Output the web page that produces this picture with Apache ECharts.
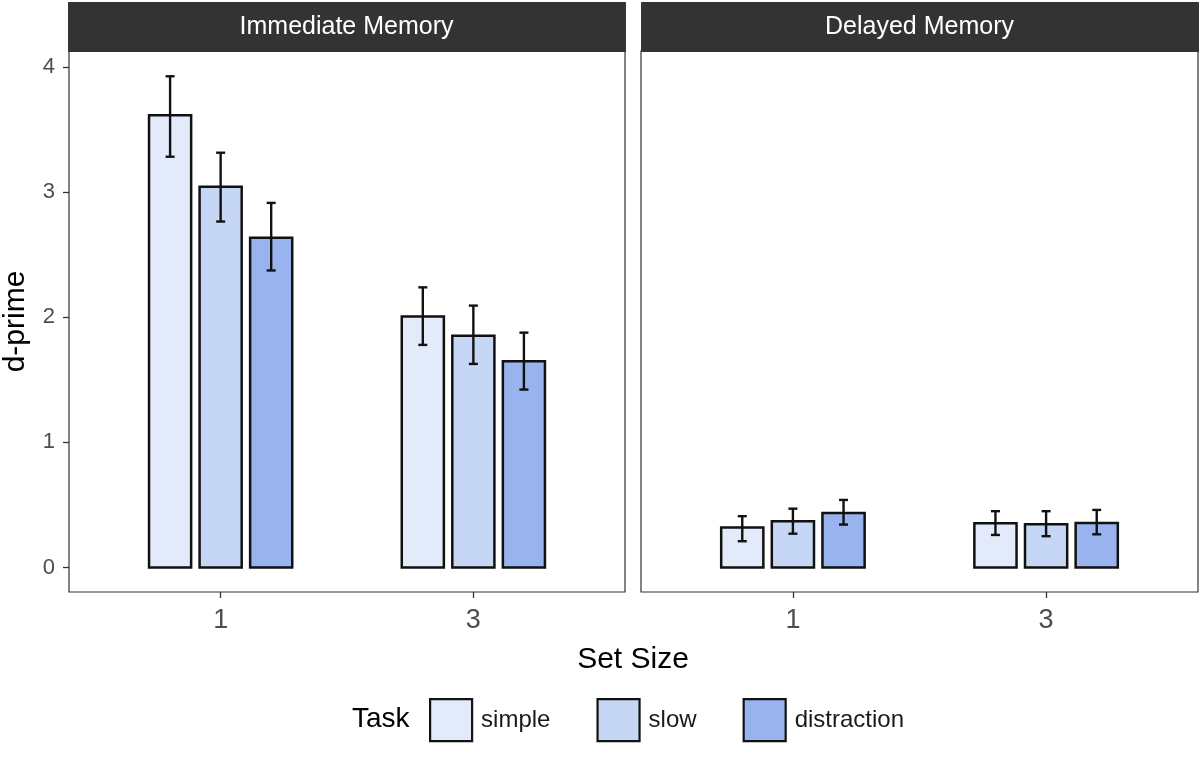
<!DOCTYPE html>
<html><head><meta charset="utf-8">
<script src="https://cdn.jsdelivr.net/npm/echarts@6/dist/echarts.min.js"></script>
<style>html,body{margin:0;padding:0;background:#fff}#c{width:1200px;height:774px}</style>
</head><body><div id="c"></div>
<script>
const panels = ['Immediate Memory', 'Delayed Memory'];
const setSizes = ['1', '3'];
const tasks = ['simple', 'slow', 'distraction'];
const taskColors = ['#E3EAFA', '#C6D6F5', '#99B3EE'];
const yTicks = [0, 1, 2, 3, 4];
// values per task (rows) for set size 1 and 3 (columns)
const immMean = [[3.615, 2.005], [3.044, 1.853], [2.635, 1.648]];
const immLow  = [[3.283, 1.779], [2.765, 1.627], [2.374, 1.422]];
const immHigh = [[3.926, 2.239], [3.315, 2.093], [2.914, 1.877]];
const delMean = [[0.319, 0.353], [0.369, 0.345], [0.436, 0.356]];
const delLow  = [[0.210, 0.260], [0.270, 0.250], [0.343, 0.265]];
const delHigh = [[0.410, 0.450], [0.470, 0.450], [0.540, 0.460]];

const FONT = 'Liberation Sans, Arial, sans-serif';
const chart = echarts.init(document.getElementById('c'));

const dodge = 0.2, halfW = 0.0833;
function makeRender(ti) {
  return function (params, api) {
    const x = api.value(0) + (ti - 1) * dodge;
    const v = api.value(1), lo = api.value(2), hi = api.value(3);
    const a = api.coord([x - halfW, v]);
    const b = api.coord([x + halfW, 0]);
    const c = api.coord([x, lo]);
    const d = api.coord([x, hi]);
    const cap = 4.5;
    const ls = { stroke: '#111', lineWidth: 2.4 };
    return {
      type: 'group',
      children: [
        { type: 'rect', shape: { x: a[0], y: a[1], width: b[0] - a[0], height: b[1] - a[1] },
          style: { fill: taskColors[ti], stroke: '#111', lineWidth: 2.5 } },
        { type: 'line', shape: { x1: c[0], y1: c[1], x2: d[0], y2: d[1] }, style: ls },
        { type: 'line', shape: { x1: c[0] - cap, y1: c[1], x2: c[0] + cap, y2: c[1] }, style: ls },
        { type: 'line', shape: { x1: d[0] - cap, y1: d[1], x2: d[0] + cap, y2: d[1] }, style: ls }
      ]
    };
  };
}

const grids = [
  { left: 68, width: 557, top: 51, height: 541 },
  { left: 641, width: 557, top: 51, height: 541 }
];
const gridOpts = grids.map(g => Object.assign({ show: true, borderColor: '#333', borderWidth: 1.2, backgroundColor: '#fff' }, g));

const xAxes = grids.map((g, i) => ({
  type: 'value', gridIndex: i, min: 0.4, max: 2.6,
  axisLine: { show: false, onZero: false },
  splitLine: { show: false },
  axisTick: { show: true, customValues: [1, 2], length: 6, lineStyle: { color: '#333', width: 1.3 } },
  axisLabel: { show: true, customValues: [1, 2], formatter: v => setSizes[Math.round(v) - 1],
    fontSize: 27, color: '#4D4D4D', fontFamily: FONT, margin: 15 }
}));
const yAxes = grids.map((g, i) => ({
  type: 'value', gridIndex: i, min: -0.196, max: 4.128,
  axisLine: { show: false, onZero: false },
  splitLine: { show: false },
  axisTick: { show: i === 0, customValues: yTicks, length: 6, lineStyle: { color: '#333', width: 1.3 } },
  axisLabel: { show: i === 0, customValues: yTicks, fontSize: 22, color: '#4D4D4D', fontFamily: FONT, margin: 14 },
  name: i === 0 ? 'd-prime' : '', nameLocation: 'middle', nameGap: 38,
  nameTextStyle: { fontSize: 30, color: '#000', fontFamily: FONT }
}));

const series = [];
[[immMean, immLow, immHigh], [delMean, delLow, delHigh]].forEach((arrs, pi) => {
  const [m, lo, hi] = arrs;
  tasks.forEach((t, ti) => {
    series.push({
      type: 'custom', name: t, xAxisIndex: pi, yAxisIndex: pi,
      itemStyle: { color: taskColors[ti], borderColor: '#111', borderWidth: 2 },
      renderItem: makeRender(ti),
      encode: { x: 0, y: 1 },
      data: setSizes.map((s, si) => [si + 1, m[ti][si], lo[ti][si], hi[ti][si]])
    });
  });
});

const graphic = [];
grids.forEach((g, i) => {
  graphic.push({ type: 'rect', left: g.left, top: 2, shape: { width: g.width, height: 49 },
    style: { fill: '#333333', stroke: '#333', lineWidth: 1 } });
  graphic.push({ type: 'text', x: g.left + g.width / 2, y: 27,
    style: { text: panels[i], fill: '#fff', font: '25px ' + FONT, textAlign: 'center', textVerticalAlign: 'middle' } });
});
graphic.push({ type: 'text', x: 633, y: 660,
  style: { text: 'Set Size', fill: '#000', font: '30px ' + FONT, textAlign: 'center', textVerticalAlign: 'middle' } });
graphic.push({ type: 'text', x: 352, y: 719,
  style: { text: 'Task', fill: '#000', font: '28px ' + FONT, textAlign: 'left', textVerticalAlign: 'middle' } });

chart.setOption({
  animation: false,
  grid: gridOpts,
  xAxis: xAxes,
  yAxis: yAxes,
  series: series,
  graphic: graphic,
  legend: {
    left: 424, top: 693, orient: 'horizontal', selectedMode: false,
    itemWidth: 42, itemHeight: 42, itemGap: 46, icon: 'rect',
    textStyle: { fontSize: 24, color: '#1a1a1a', fontFamily: FONT, padding: [0, 0, 0, 4] },
    data: tasks.map((t, ti) => ({ name: t, itemStyle: { color: taskColors[ti], borderColor: '#111', borderWidth: 2.2 } }))
  }
});
</script></body></html>
